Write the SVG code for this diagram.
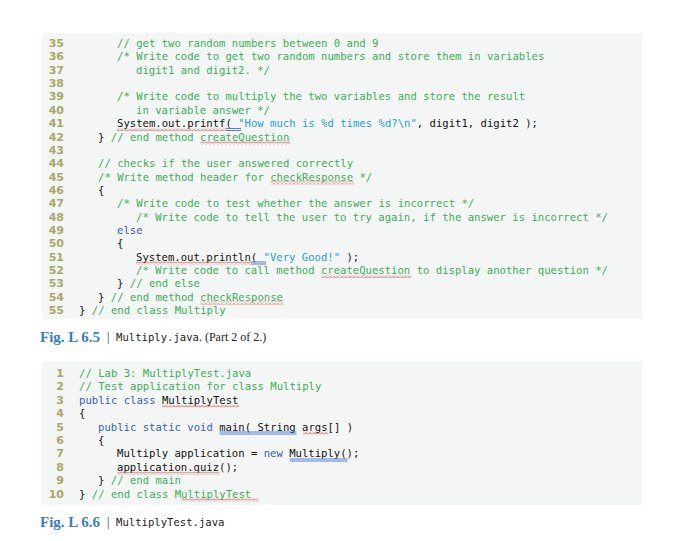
<svg xmlns="http://www.w3.org/2000/svg" width="687" height="541" viewBox="0 0 687 541">
<defs>
<pattern id="sq" width="4" height="3" patternUnits="userSpaceOnUse"><path d="M0 2.5 L2 0.5 L4 2.5" fill="none" stroke="#e02020" stroke-width="0.8"/></pattern>
</defs>
<style>
.c{font-family:"DejaVu Sans Mono","Liberation Mono",monospace;font-size:10.6px;white-space:pre}
.n{font-family:"DejaVu Sans",sans-serif;font-size:11px;fill:#a8a868;font-weight:bold;text-anchor:end}
.g{fill:#3aae58}.k{fill:#3a5fb0}.s{fill:#1ea0d0}.b{fill:#111}
.fig{font-family:"Liberation Serif",serif;font-weight:bold;font-size:15px;fill:#3a7ec0}
.cap{font-family:"Liberation Serif",serif;font-size:12px;fill:#222}
.cm{font-family:"DejaVu Sans Mono",monospace;font-size:10.6px;fill:#222}
.bl{stroke:#3060d0;stroke-width:0.8}
</style>
<rect width="687" height="541" fill="#fff"/>
<rect x="42" y="33" width="600" height="286" fill="#f4f6f5"/>
<rect x="42" y="362" width="600" height="143" fill="#f4f6f5"/>
<g id="code1">
<text class="n" x="64" y="47">35</text><text class="c g" x="117" y="47">// get two random numbers between 0 and 9</text>
<text class="n" x="64" y="60.4">36</text><text class="c g" x="117" y="60.4">/* Write code to get two random numbers and store them in variables</text>
<text class="n" x="64" y="73.7">37</text><text class="c g" x="136" y="73.7">digit1 and digit2. */</text>
<text class="n" x="64" y="87.1">38</text>
<text class="n" x="64" y="100.4">39</text><text class="c g" x="117" y="100.4">/* Write code to multiply the two variables and store the result</text>
<text class="n" x="64" y="113.8">40</text><text class="c g" x="136" y="113.8">in variable answer */</text>
<text class="n" x="64" y="127.1">41</text><text class="c b" x="117" y="127.1">System.out.printf( <tspan class="s">"How much is %d times %d?\n"</tspan>, digit1, digit2 );</text>
<text class="n" x="64" y="140.5">42</text><text class="c b" x="98" y="140.5">} <tspan class="g">// end method createQuestion</tspan></text>
<text class="n" x="64" y="153.8">43</text>
<text class="n" x="64" y="167.2">44</text><text class="c g" x="98" y="167.2">// checks if the user answered correctly</text>
<text class="n" x="64" y="180.5">45</text><text class="c g" x="98" y="180.5">/* Write method header for checkResponse */</text>
<text class="n" x="64" y="193.9">46</text><text class="c b" x="98" y="193.9">{</text>
<text class="n" x="64" y="207.2">47</text><text class="c g" x="117" y="207.2">/* Write code to test whether the answer is incorrect */</text>
<text class="n" x="64" y="220.6">48</text><text class="c g" x="136" y="220.6">/* Write code to tell the user to try again, if the answer is incorrect */</text>
<text class="n" x="64" y="233.9">49</text><text class="c k" x="117" y="233.9">else</text>
<text class="n" x="64" y="247.3">50</text><text class="c b" x="117" y="247.3">{</text>
<text class="n" x="64" y="260.6">51</text><text class="c b" x="136" y="260.6">System.out.println( <tspan class="s">"Very Good!"</tspan> );</text>
<text class="n" x="64" y="274">52</text><text class="c g" x="136" y="274">/* Write code to call method createQuestion to display another question */</text>
<text class="n" x="64" y="287.3">53</text><text class="c b" x="117" y="287.3">} <tspan class="g">// end else</tspan></text>
<text class="n" x="64" y="300.7">54</text><text class="c b" x="98" y="300.7">} <tspan class="g">// end method checkResponse</tspan></text>
<text class="n" x="64" y="314">55</text><text class="c b" x="79" y="314">} <tspan class="g">// end class Multiply</tspan></text>
</g>
<g id="code2">
<text class="n" x="64" y="377">1</text><text class="c g" x="79" y="377">// Lab 3: MultiplyTest.java</text>
<text class="n" x="64" y="390.4">2</text><text class="c g" x="79" y="390.4">// Test application for class Multiply</text>
<text class="n" x="64" y="403.8">3</text><text class="c k" x="79" y="403.8">public class <tspan class="b">MultiplyTest</tspan></text>
<text class="n" x="64" y="417.2">4</text><text class="c b" x="79" y="417.2">{</text>
<text class="n" x="64" y="430.6">5</text><text class="c k" x="98" y="430.6">public static void <tspan class="b">main( String args[] )</tspan></text>
<text class="n" x="64" y="444">6</text><text class="c b" x="98" y="444">{</text>
<text class="n" x="64" y="457.4">7</text><text class="c b" x="117" y="457.4">Multiply application = <tspan class="k">new</tspan> Multiply();</text>
<text class="n" x="64" y="470.8">8</text><text class="c b" x="117" y="470.8">application.quiz();</text>
<text class="n" x="64" y="484.2">9</text><text class="c b" x="98" y="484.2">} <tspan class="g">// end main</tspan></text>
<text class="n" x="64" y="497.6">10</text><text class="c b" x="79" y="497.6">} <tspan class="g">// end class MultiplyTest</tspan></text>
</g>
<g id="marks" fill="url(#sq)">
<rect x="117" y="128" width="109" height="3"/>
<rect x="200.4" y="141.4" width="89.6" height="3"/>
<rect x="270.8" y="181.4" width="83.2" height="3"/>
<rect x="136" y="261.5" width="115" height="3"/>
<rect x="321.6" y="274.9" width="89.6" height="3"/>
<rect x="200.4" y="301.6" width="83.2" height="3"/>
<rect x="162.2" y="404.7" width="76.8" height="3"/>
<rect x="302.8" y="431.5" width="25.6" height="3"/>
<rect x="117" y="471.7" width="102.4" height="3"/>
<rect x="181.4" y="498.5" width="76.8" height="3"/>
</g>
<g id="blue" class="bl">
<line x1="226" y1="128.5" x2="241" y2="128.5"/><line x1="226" y1="130.5" x2="241" y2="130.5"/>
<line x1="251" y1="262" x2="266" y2="262"/><line x1="251" y1="264" x2="266" y2="264"/>
<line x1="219.6" y1="432" x2="296.4" y2="432"/><line x1="219.6" y1="434" x2="296.4" y2="434"/>
<line x1="289.8" y1="459" x2="347.4" y2="459"/><line x1="289.8" y1="461" x2="347.4" y2="461"/>
</g>
<g id="captions">
<text class="fig" x="40" y="342">Fig. L 6.5</text><text class="cap" x="107" y="341" font-size="14">|</text>
<text class="cm" x="116" y="341">Multiply.java<tspan class="cap">. (Part 2 of 2.)</tspan></text>
<text class="fig" x="40" y="527">Fig. L 6.6</text><text class="cap" x="107" y="526" font-size="14">|</text>
<text class="cm" x="116" y="526">MultiplyTest.java</text>
</g>
</svg>
